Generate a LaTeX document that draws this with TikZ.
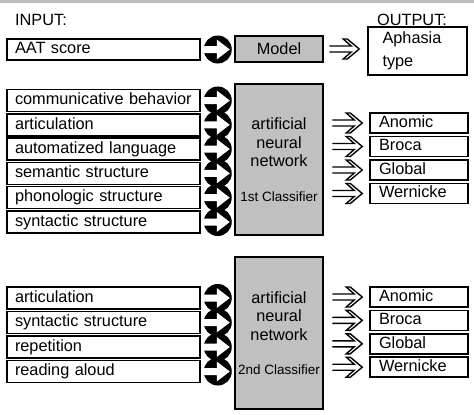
\documentclass[tikz,border=0pt]{standalone}
\usepackage{fontspec}
\setmainfont{Liberation Sans}
\usetikzlibrary{calc}
\definecolor{boxgray}{RGB}{192,192,192}
\definecolor{framegray}{RGB}{188,188,188}
\begin{document}
\begin{tikzpicture}[x=1pt,y=-1pt]
\tikzset{inbox/.style={draw, line width=1.5pt, minimum width=193pt, minimum height=22pt, text width=177pt, inner xsep=8pt, inner ysep=0pt, align=left, text height=12pt, text depth=3.5pt, font=\fontsize{16.3}{18}\selectfont},
outbox/.style={inbox, minimum width=98pt, text width=80pt, inner xsep=9pt, minimum height=20pt},
annbox/.style={draw, line width=1.5pt, fill=boxgray, minimum width=88pt, align=center, font=\fontsize{16.3}{18.5}\selectfont},
roundarrow/.pic={
  \fill (0,0) circle (14pt);
  \fill[white] (-15,-3.5) -- (-1,-3.5) -- (-1,-10) -- (12,0) -- (-1,10) -- (-1,3.5) -- (-15,3.5) -- cycle;},
hollowarrow/.pic={
  \draw[line width=1.4pt, line join=miter] (-30,-3) -- (-8,-3) -- (-16,-10) -- (-12,-10) -- (0,0) -- (-12,10) -- (-16,10) -- (-8,3) -- (-30,3);}}
\useasboundingbox (0,0) rectangle (474,415);
\fill[framegray] (0,0) rectangle (474,3);
% headings
\node[anchor=base west, inner sep=0pt, font=\fontsize{16.3}{18}\selectfont] (inlabel) at (15,25) {INPUT:};
\node[anchor=base west, inner sep=0pt, font=\fontsize{16.3}{18}\selectfont] (outlabel) at (377,25) {OUTPUT:};
% model row
\node[inbox, minimum height=21pt] (aat) at (103.5,49.5) {AAT score};
\node[annbox, minimum height=26pt] (model) at (279,49) {Model};
\node[draw, line width=1.5pt, minimum width=99pt, minimum height=48pt, text width=70pt, align=left, font=\fontsize{16.3}{18}\selectfont] (aphasia) at (417.5,51) {Aphasia\\[5pt]type};
\pic at ($(aat.east)+(17,0)$) {roundarrow};
\pic at ($(aphasia.west |- model.east)+(-8,0)$) {hollowarrow};
% 1st classifier
\node[inbox] (comm) at (103.5,100.5) {communicative behavior};
\node[inbox] (artic) at (103.5,124.8) {articulation};
\node[inbox] (autom) at (103.5,149.1) {automatized language};
\node[inbox] (seman) at (103.5,173.4) {semantic structure};
\node[inbox] (phono) at (103.5,197.7) {phonologic structure};
\node[inbox] (synta) at (103.5,222) {syntactic structure};
\node[annbox, minimum height=151pt] (ann1) at (279,159.5) {artificial\\neural\\network\\[16pt]{\fontsize{13.5}{16}\selectfont 1st Classifier}};
\node[outbox] (anom1) at (419,123) {Anomic};
\node[outbox] (broca1) at (419,146.5) {Broca};
\node[outbox] (glob1) at (419,170) {Global};
\node[outbox] (wern1) at (419,193.5) {Wernicke};
\pic at ($(comm.east)+(17,0)$) {roundarrow};
\pic at ($(artic.east)+(17,0)$) {roundarrow};
\pic at ($(autom.east)+(17,0)$) {roundarrow};
\pic at ($(seman.east)+(17,0)$) {roundarrow};
\pic at ($(phono.east)+(17,0)$) {roundarrow};
\pic at ($(synta.east)+(17,0)$) {roundarrow};
\pic at ($(anom1.west)+(-7,0)$) {hollowarrow};
\pic at ($(broca1.west)+(-7,0)$) {hollowarrow};
\pic at ($(glob1.west)+(-7,0)$) {hollowarrow};
\pic at ($(wern1.west)+(-7,0)$) {hollowarrow};
% 2nd classifier
\node[inbox] (artic2) at (103.5,298) {articulation};
\node[inbox] (synta2) at (103.5,322.5) {syntactic structure};
\node[inbox] (repet) at (103.5,347) {repetition};
\node[inbox] (readal) at (103.5,371.5) {reading aloud};
\node[annbox, minimum height=152pt] (ann2) at (279,333) {artificial\\neural\\network\\[16pt]{\fontsize{13.5}{16}\selectfont 2nd Classifier}};
\node[outbox] (anom2) at (419,297) {Anomic};
\node[outbox] (broca2) at (419,320.4) {Broca};
\node[outbox] (glob2) at (419,343.8) {Global};
\node[outbox] (wern2) at (419,367.2) {Wernicke};
\pic at ($(artic2.east)+(17,0)$) {roundarrow};
\pic at ($(synta2.east)+(17,0)$) {roundarrow};
\pic at ($(repet.east)+(17,0)$) {roundarrow};
\pic at ($(readal.east)+(17,0)$) {roundarrow};
\pic at ($(anom2.west)+(-7,0)$) {hollowarrow};
\pic at ($(broca2.west)+(-7,0)$) {hollowarrow};
\pic at ($(glob2.west)+(-7,0)$) {hollowarrow};
\pic at ($(wern2.west)+(-7,0)$) {hollowarrow};
\end{tikzpicture}
\end{document}
